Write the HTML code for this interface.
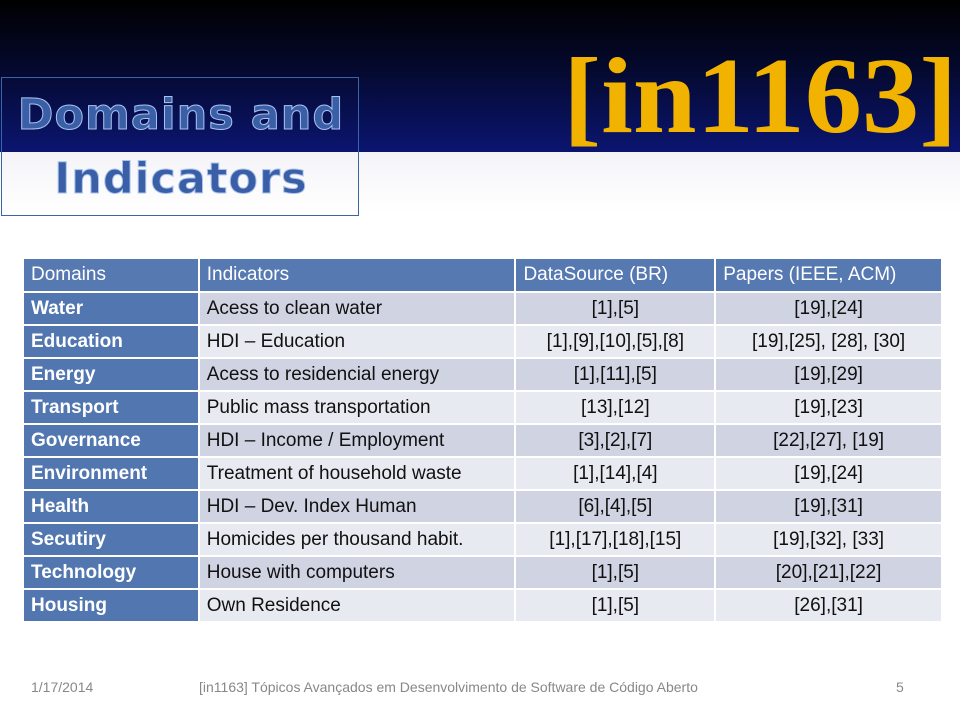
<!DOCTYPE html>
<html><head><meta charset="utf-8"><style>
*{margin:0;padding:0;box-sizing:border-box}
body{width:960px;height:720px;position:relative;overflow:hidden;background:#fff;font-family:"Liberation Sans",sans-serif}
#band{position:absolute;left:0;top:0;width:960px;height:152px;background:linear-gradient(#000 0%,#040828 40%,#0b1570 100%)}
#fade{position:absolute;left:0;top:152px;width:960px;height:60px;background:linear-gradient(#f4f4f8,#fff)}
#logo{position:absolute;left:563px;top:43px;font-family:"Liberation Serif",serif;font-weight:bold;font-size:108px;color:#f2b300;letter-spacing:0;line-height:1;transform:scaleX(1.06);transform-origin:left top;white-space:nowrap}
#tbox{position:absolute;left:1px;top:77px;width:358px;height:139px;border:1px solid #3a66a8}
.tt{position:absolute;left:0;width:358px;text-align:center;font-family:"DejaVu Sans",sans-serif;font-weight:bold;font-size:43px;color:#3a5fa6;-webkit-text-stroke:1px #a9c3ee;letter-spacing:1px}
table{position:absolute;left:24px;top:259px;width:919px;border-collapse:collapse;font-size:19px}
td{height:33px;padding:0 7px;border-right:2px solid #fff;border-bottom:2px solid #fff;color:#111;white-space:nowrap}
tr.h td{background:#5779b2;color:#fff;height:33px}
td.d{background:#5277b0;color:#fff;font-weight:bold}
tr.a td:not(.d){background:#cfd3e2}
tr.b td:not(.d){background:#e8eaf1}
td.c{text-align:center}
.foot{position:absolute;top:679px;font-size:14px;color:#888}
</style></head><body>
<div id="band"></div>
<div id="fade"></div>
<div id="logo">[in1163]</div>
<div id="tbox">
<div class="tt" style="top:12px">Domains and</div>
<div class="tt" style="top:76px">Indicators</div>
</div>
<table>
<colgroup><col style="width:175px"><col style="width:317px"><col style="width:200px"><col style="width:227px"></colgroup>
<tr class="h"><td>Domains</td><td>Indicators</td><td>DataSource (BR)</td><td>Papers (IEEE, ACM)</td></tr>
<tr class="a"><td class="d">Water</td><td>Acess to clean water</td><td class="c">[1],[5]</td><td class="c">[19],[24]</td></tr>
<tr class="b"><td class="d">Education</td><td>HDI – Education</td><td class="c">[1],[9],[10],[5],[8]</td><td class="c">[19],[25], [28], [30]</td></tr>
<tr class="a"><td class="d">Energy</td><td>Acess to residencial energy</td><td class="c">[1],[11],[5]</td><td class="c">[19],[29]</td></tr>
<tr class="b"><td class="d">Transport</td><td>Public mass transportation</td><td class="c">[13],[12]</td><td class="c">[19],[23]</td></tr>
<tr class="a"><td class="d">Governance</td><td>HDI – Income / Employment</td><td class="c">[3],[2],[7]</td><td class="c">[22],[27], [19]</td></tr>
<tr class="b"><td class="d">Environment</td><td>Treatment of household waste</td><td class="c">[1],[14],[4]</td><td class="c">[19],[24]</td></tr>
<tr class="a"><td class="d">Health</td><td>HDI – Dev. Index Human</td><td class="c">[6],[4],[5]</td><td class="c">[19],[31]</td></tr>
<tr class="b"><td class="d">Secutiry</td><td>Homicides per thousand habit.</td><td class="c">[1],[17],[18],[15]</td><td class="c">[19],[32], [33]</td></tr>
<tr class="a"><td class="d">Technology</td><td>House with computers</td><td class="c">[1],[5]</td><td class="c">[20],[21],[22]</td></tr>
<tr class="b"><td class="d">Housing</td><td>Own Residence</td><td class="c">[1],[5]</td><td class="c">[26],[31]</td></tr>
</table>
<div class="foot" style="left:31px">1/17/2014</div>
<div class="foot" style="left:199px">[in1163] Tópicos Avançados em Desenvolvimento de Software de Código Aberto</div>
<div class="foot" style="left:896px">5</div>
</body></html>
